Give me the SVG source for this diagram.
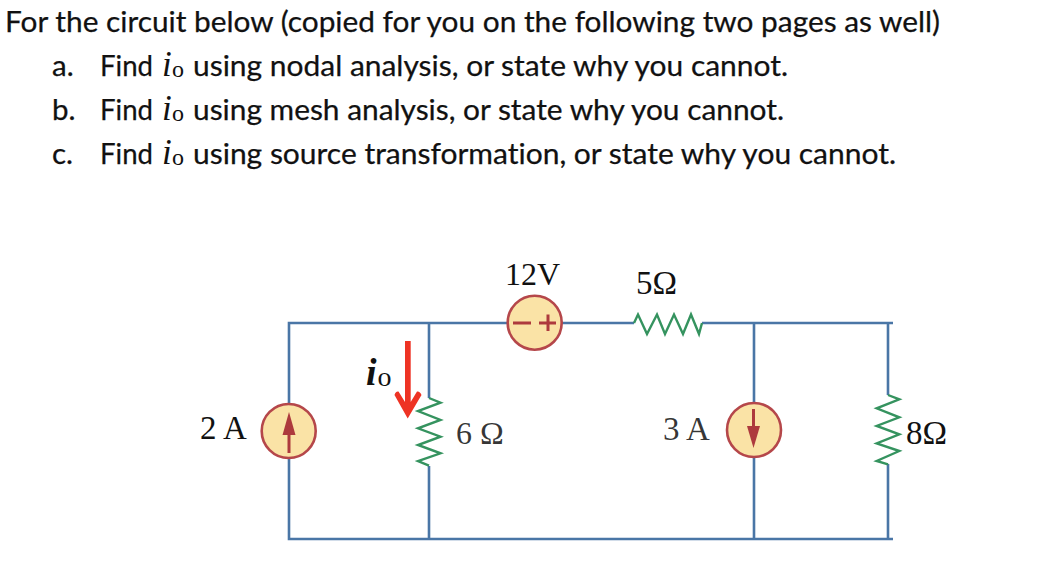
<svg xmlns="http://www.w3.org/2000/svg" width="1040" height="574" viewBox="0 0 1040 574">
<style>
.t{font-family:"Lato","Open Sans",sans-serif;font-size:29.500px;fill:#111;stroke:#111;stroke-width:.25;font-variant-ligatures:none}
.s{font-family:"Liberation Serif","Times New Roman",serif;fill:#111}
.i{font-style:italic}
.w{fill:none;stroke:#4a76a6;stroke-width:2.6}
.r{fill:none;stroke:#35935f;stroke-width:2.4}
.c{fill:#fae3a6;stroke:#b5474a;stroke-width:2.6}
.m{fill:none;stroke:#ad3a3d;stroke-width:3}
.a{fill:#ad3a3d}
</style>
<rect width="1040" height="574" fill="#fff"/>
<g id="question">
<text class="t" x="5" y="31.500" textLength="935" lengthAdjust="spacingAndGlyphs">For the circuit below (copied for you on the following two pages as well)</text>
<text class="t" x="52" y="75.500">a.</text>
<text class="t" x="100" y="75.500" textLength="53" lengthAdjust="spacingAndGlyphs">Find</text>
<text class="s i" x="162" y="76" font-size="35">i</text><text class="s" x="172" y="76.500" font-size="24">o</text>
<text class="t" x="193" y="75.500" textLength="595" lengthAdjust="spacingAndGlyphs">using nodal analysis, or state why you cannot.</text>
<text class="t" x="52" y="119.500">b.</text>
<text class="t" x="100" y="119.500" textLength="53" lengthAdjust="spacingAndGlyphs">Find</text>
<text class="s i" x="162" y="120" font-size="35">i</text><text class="s" x="172" y="120.500" font-size="24">o</text>
<text class="t" x="193" y="119.500" textLength="591" lengthAdjust="spacingAndGlyphs">using mesh analysis, or state why you cannot.</text>
<text class="t" x="52" y="163.500">c.</text>
<text class="t" x="100" y="163.500" textLength="53" lengthAdjust="spacingAndGlyphs">Find</text>
<text class="s i" x="162" y="164" font-size="35">i</text><text class="s" x="172" y="164.500" font-size="24">o</text>
<text class="t" x="193" y="163.500" textLength="703" lengthAdjust="spacingAndGlyphs">using source transformation, or state why you cannot.</text>
</g>
<g id="connectors">
<path class="w" d="M289 404V323H508M562 323H634M702 323H893M429 323V398M429 466V539M289 458V539H893M754 323V403M754 457V539M888 323V395M888 464V539"/>
</g>
<g id="source-2A">
<circle class="c" cx="288.700" cy="431" r="27"/>
<path class="m" d="M289 453V430"/><path class="a" d="M289 412L295.500 435H282.500Z"/>
<text class="s" x="200" y="438.500" font-size="33">2 A</text>
</g>
<g id="source-12V">
<circle class="c" cx="534.700" cy="322.700" r="27"/>
<path class="m" d="M513 323H531M539 323H556M548 314.500V331" stroke-width="2.400"/>
<text class="s" x="505" y="285" font-size="32">12V</text>
</g>
<g id="resistor-5">
<path class="r" d="M634 323L638 314.500L647 334L657 314.500L665 334L674 314.500L683 334L691 314.500L699 334L702 323"/>
<text class="s" x="636" y="294" font-size="33">5Ω</text>
</g>
<g id="resistor-6">
<path class="r" d="M429 398L440.500 402.700L418 411L440.500 420L418 428.300L440.500 436.700L418 445L440.500 453.300L418 461L429 465.700"/>
<text class="s" x="456" y="444" font-size="32" fill-opacity=".85">6 Ω</text>
</g>
<g id="source-3A">
<circle class="c" cx="754" cy="430" r="27"/>
<path class="m" d="M753.500 409V430"/><path class="a" d="M753.500 448L747 426H760Z"/>
<text class="s" x="663" y="440" font-size="33" fill-opacity=".85">3 A</text>
</g>
<g id="resistor-8">
<path class="r" d="M888 395L899.300 399.300L876.700 408.300L899.300 417.300L876.700 426L899.300 434.300L876.700 443.300L899.300 451L876.700 461L888 464.300"/>
<text class="s" x="906" y="444.300" font-size="33">8Ω</text>
</g>
<g id="current-io">
<path d="M405 341H410.700V402L417 391.500Q420 391 421.500 395L407.700 418.500L394.500 395Q395.500 391 398.500 391.500L405 402Z" fill="#ee3324"/>
<text class="s i" x="366" y="385" font-size="38" font-weight="bold">i</text>
<text class="s" x="377.500" y="385.500" font-size="28">o</text>
</g>
</svg>
